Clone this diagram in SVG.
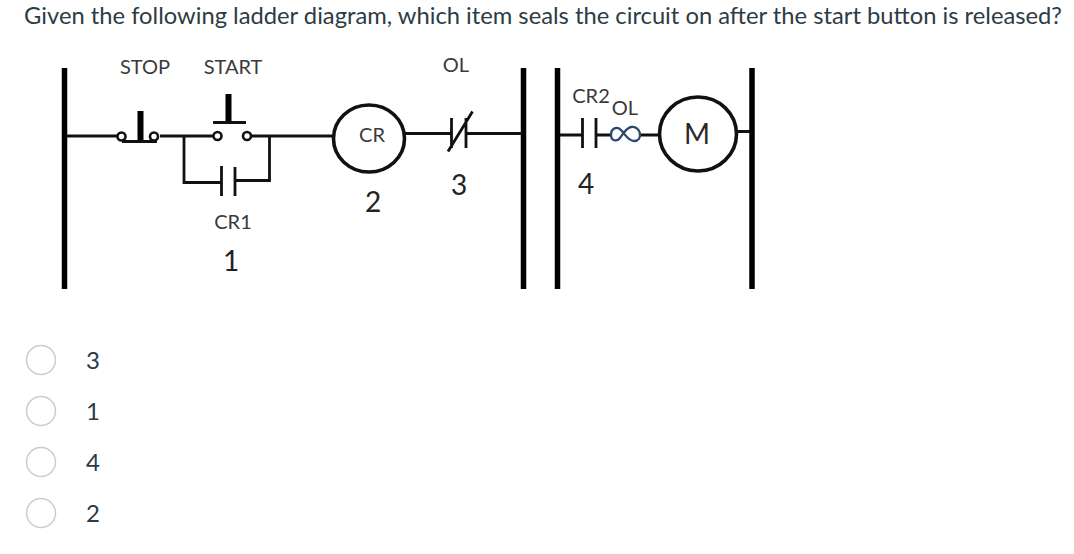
<svg xmlns="http://www.w3.org/2000/svg" width="1074" height="554" viewBox="0 0 1074 554">
<style>
text{font-family:Lato,"Liberation Sans",sans-serif}
.q{fill:#2d3b45}
.t{font-size:24px}
.o{font-size:24px;text-anchor:middle}
.l{fill:#3a3a3a;font-size:20px;text-anchor:middle}
.n{fill:#222;font-size:28px;text-anchor:middle}
.r{fill:#fff;stroke:#c7cdd1;stroke-width:1.500}
.rail{stroke:#000;stroke-width:5.500;fill:none}
.w{stroke:#111;stroke-width:2.800;fill:none}
.p{fill:#fff;stroke:#111;stroke-width:2.600}
.coil{fill:#fff;stroke:#111;stroke-width:3.600}
.stem{stroke:#000;stroke-width:6;fill:none}
</style>
<rect width="1074" height="554" fill="#fff"/>
<text class="q t" x="24" y="24" textLength="1038" lengthAdjust="spacingAndGlyphs">Given the following ladder diagram, which item seals the circuit on after the start button is released?</text>
<g id="connectors">
<path class="rail" d="M64.500 68V289M523.500 68V289M557.500 68V289M752 68V289"/>
<path class="w" d="M66 136H118M160 136H214M252 136H332M184 136V182.500H221.500M235 180.500H269.500V136M405 133.500H451.500M466 133.500H522M560 135H582M596 135H610M640 135H659M737 131.500H750"/>
</g>
<g id="stop">
<path class="stem" d="M140.500 111V141"/><path class="w" d="M122 141.500H157"/>
<circle class="p" cx="121.500" cy="136.500" r="4"/><circle class="p" cx="154" cy="136.500" r="4"/>
<text class="l" x="145" y="74">STOP</text>
</g>
<g id="start">
<path class="stem" d="M228.500 94V122"/><path class="w" d="M213 122.500H246"/>
<circle class="p" cx="217.500" cy="136" r="4"/><circle class="p" cx="247" cy="136" r="4"/>
<text class="l" x="233" y="74">START</text>
</g>
<g id="cr1">
<path class="w" d="M221.500 166V196M235 167V196"/>
<text class="l" x="233" y="229">CR1</text>
<text class="n" x="231" y="271">1</text>
</g>
<g id="cr">
<ellipse class="coil" cx="369" cy="138.500" rx="35.500" ry="33.500"/>
<text class="l" x="372" y="142">CR</text>
<text class="n" x="373" y="212">2</text>
</g>
<g id="ol">
<path class="w" d="M451.500 118V148M466 118V148M448 151.500L472.500 111.500"/>
<text class="l" x="456" y="72">OL</text>
<text class="n" x="459" y="195">3</text>
</g>
<g id="cr2">
<path class="w" d="M582.500 118V148M596 118V148"/>
<text class="l" x="591" y="103">CR2</text>
<text class="n" x="586" y="194">4</text>
</g>
<g id="overload">
<path fill="none" stroke="#2c4770" stroke-width="2.300" d="M611 135C611 128 617 126 621 130C625 134 628 141 634 141C639 141 640 137 640 135C640 130 636 126 631 127C626 128 623 134 620 138C617 142 611 141 611 135Z"/>
<text class="l" x="625" y="115">OL</text>
</g>
<g id="motor">
<ellipse class="coil" cx="698" cy="134" rx="38.500" ry="37"/>
<text fill="#2a2a2a" font-size="28" text-anchor="middle" x="697" y="144">M</text>
</g>
<g id="option-3"><circle class="r" cx="41" cy="360" r="14.500"/><text class="q o" x="93" y="369">3</text></g>
<g id="option-1"><circle class="r" cx="41" cy="411" r="14.500"/><text class="q o" x="93" y="420">1</text></g>
<g id="option-4"><circle class="r" cx="41" cy="462" r="14.500"/><text class="q o" x="93" y="471">4</text></g>
<g id="option-2"><circle class="r" cx="41" cy="513" r="14.500"/><text class="q o" x="93" y="522">2</text></g>
</svg>
